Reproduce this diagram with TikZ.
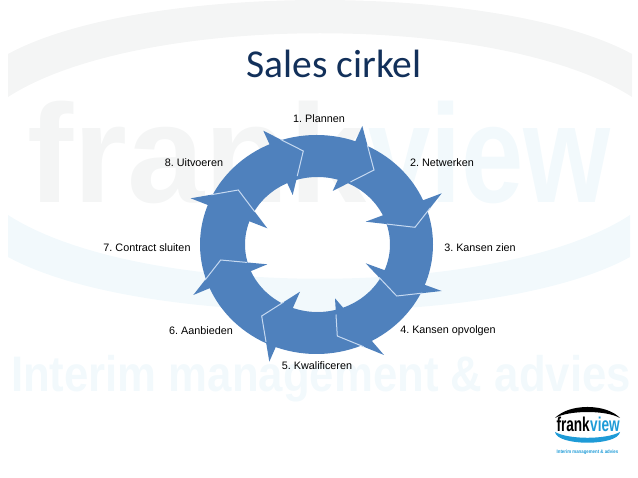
\documentclass[tikz,border=0pt]{standalone}
\usepackage{fontspec}
\usetikzlibrary{calc}
\setmainfont{Liberation Sans}
\newfontfamily\titlefont{Carlito}
\definecolor{ringblue}{HTML}{4F81BD}
\definecolor{seamblue}{HTML}{C6D9F1}
\definecolor{titleblue}{HTML}{12305A}
\definecolor{markgray}{HTML}{F4F5F5}
\definecolor{markblue}{HTML}{F2F9FC}
\definecolor{logoblue}{HTML}{1E9BD7}
\tikzset{
	steplabel/.style={font=\frenchspacing\fontsize{10.8}{13}\selectfont, text=black, inner sep=0pt},
	arrowhead/.style={fill=ringblue},
	seam/.style={draw=seamblue, line width=1pt, line join=miter},
	marktext/.style={inner sep=0pt, font=\bfseries}
}
\begin{document}
\begin{tikzpicture}[x=1pt,y=-1pt]
	\useasboundingbox (0,0) rectangle (638,478);
	% watermark
	\fill [markgray] (8,54) .. controls (140,-18) and (500,-18) .. (632,54) -- (632,97) .. controls (500,12) and (140,12) .. (8,97) -- cycle;
	\fill [markblue] (8,215) .. controls (140,300) and (500,300) .. (630,215) -- (630,257) .. controls (500,329) and (140,329) .. (8,257) -- cycle;
	\node [marktext, text=markgray, anchor=base west] (markfrank) at (27,203) {\scalebox{0.99}[1]{\fontsize{140}{140}\selectfont frank}};
	\node [marktext, text=markblue, anchor=base west] (markview) at (368,203) {\scalebox{0.8}[1]{\fontsize{140}{140}\selectfont view}};
	\node [marktext, text=markblue, anchor=base] (markline) at (321,392) {\scalebox{0.875}[1]{\fontsize{50}{50}\selectfont Interim management \& advies}};
	% title
	\node [inner sep=0pt, text=titleblue, font=\titlefont\fontsize{39.5}{44}\selectfont] (title) at (334,64) {Sales cirkel};
	% ring
	\fill [ringblue, even odd rule] (316.5,244.5) ellipse [x radius=116.5pt, y radius=109.5pt] (317.5,244.5) ellipse [x radius=72.5pt, y radius=67.5pt];
	% arrow points
	\coordinate (outer1) at (362.3,126); \coordinate (apex1) at (374,170); \coordinate (inner1) at (332.7,191);
	\coordinate (outer2) at (441.7,193.3); \coordinate (apex2) at (415,227.3); \coordinate (inner2) at (365.7,221.7);
	\coordinate (outer3) at (441.7,291); \coordinate (apex3) at (396.7,296); \coordinate (inner3) at (365.7,263.3);
	\coordinate (outer4) at (384,355); \coordinate (apex4) at (337.3,336); \coordinate (inner4) at (335,298.3);
	\coordinate (outer5) at (269.3,361.7); \coordinate (apex5) at (261.7,316); \coordinate (inner5) at (300,291.7);
	\coordinate (outer6) at (193.3,295); \coordinate (apex6) at (220.7,260); \coordinate (inner6) at (267.3,264.3);
	\coordinate (outer7) at (190.7,198.3); \coordinate (apex7) at (238.3,190); \coordinate (inner7) at (267.3,228.3);
	\coordinate (outer8) at (263.3,130.7); \coordinate (apex8) at (303.3,151); \coordinate (inner8) at (292.7,195);
	% heads
	\fill [arrowhead] (outer1) -- (apex1) -- (inner1) -- ($(outer1)!0.5!(inner1)$) -- cycle;
	\fill [arrowhead] (outer2) -- (apex2) -- (inner2) -- ($(outer2)!0.5!(inner2)$) -- cycle;
	\fill [arrowhead] (outer3) -- (apex3) -- (inner3) -- ($(outer3)!0.5!(inner3)$) -- cycle;
	\fill [arrowhead] (outer4) -- (apex4) -- (inner4) -- ($(outer4)!0.5!(inner4)$) -- cycle;
	\fill [arrowhead] (outer5) -- (apex5) -- (inner5) -- ($(outer5)!0.5!(inner5)$) -- cycle;
	\fill [arrowhead] (outer6) -- (apex6) -- (inner6) -- ($(outer6)!0.5!(inner6)$) -- cycle;
	\fill [arrowhead] (outer7) -- (apex7) -- (inner7) -- ($(outer7)!0.5!(inner7)$) -- cycle;
	\fill [arrowhead] (outer8) -- (apex8) -- (inner8) -- ($(outer8)!0.5!(inner8)$) -- cycle;
	% seams
	\draw [seam] ($(apex1)!0.57!(outer1)$) -- (apex1) -- ($(apex1)!0.57!(inner1)$);
	\draw [seam] ($(apex2)!0.57!(outer2)$) -- (apex2) -- ($(apex2)!0.57!(inner2)$);
	\draw [seam] ($(apex3)!0.57!(outer3)$) -- (apex3) -- ($(apex3)!0.57!(inner3)$);
	\draw [seam] ($(apex4)!0.57!(outer4)$) -- (apex4) -- ($(apex4)!0.57!(inner4)$);
	\draw [seam] ($(apex5)!0.57!(outer5)$) -- (apex5) -- ($(apex5)!0.57!(inner5)$);
	\draw [seam] ($(apex6)!0.57!(outer6)$) -- (apex6) -- ($(apex6)!0.57!(inner6)$);
	\draw [seam] ($(apex7)!0.57!(outer7)$) -- (apex7) -- ($(apex7)!0.57!(inner7)$);
	\draw [seam] ($(apex8)!0.57!(outer8)$) -- (apex8) -- ($(apex8)!0.57!(inner8)$);
	% labels
	\node [steplabel] (plannen) at (319,119) {1. Plannen};
	\node [steplabel] (netwerken) at (442,163) {2. Netwerken};
	\node [steplabel] (zien) at (480,248) {3. Kansen zien};
	\node [steplabel] (opvolgen) at (448,331) {4. Kansen opvolgen};
	\node [steplabel] (kwalificeren) at (317,366) {5. Kwalificeren};
	\node [steplabel] (aanbieden) at (201,331) {6. Aanbieden};
	\node [steplabel] (contract) at (147,248) {7. Contract sluiten};
	\node [steplabel] (uitvoeren) at (194,163) {8. Uitvoeren};
	% logo
	\fill [black] (555,418) .. controls (569,403.3) and (606,403.3) .. (620,418) .. controls (606,410) and (569,410) .. (555,418) -- cycle;
	\fill [logoblue] (555,432) .. controls (569,439.7) and (606,439.7) .. (620,432) .. controls (618,446.3) and (557,446.3) .. (555,432) -- cycle;
	\node [inner sep=0pt, anchor=base east, font=\bfseries] (logofrank) at (590,432) {\scalebox{0.68}[1]{\fontsize{20}{20}\selectfont frank}};
	\node [inner sep=0pt, anchor=base west, text=logoblue, font=\bfseries] (logoview) at (590,432) {\scalebox{0.68}[1]{\fontsize{20}{20}\selectfont view}};
	\node [inner sep=0pt, text=logoblue, font=\bfseries] (logoline) at (587.5,452) {\scalebox{0.87}[1]{\fontsize{5}{6}\selectfont Interim management \& advies}};
\end{tikzpicture}
\end{document}
